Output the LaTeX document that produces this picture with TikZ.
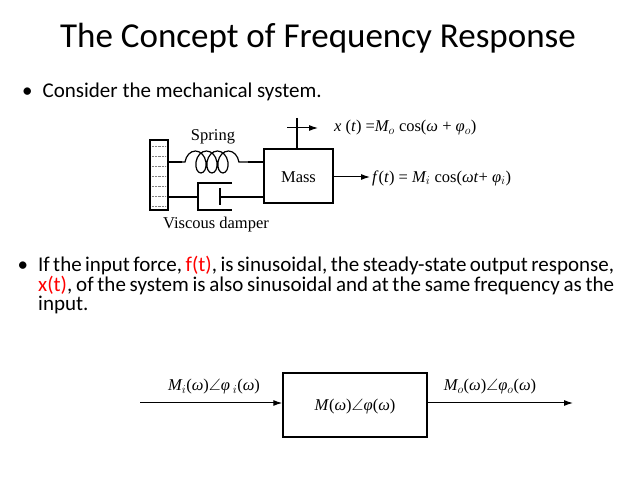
\documentclass[tikz,border=0pt]{standalone}
\usepackage{fontspec}
\usepackage{amssymb}
\setmainfont{Carlito}
\newfontfamily\tms{Liberation Serif}
\usetikzlibrary{arrows.meta,decorations.pathmorphing}
\newcommand{\iv}[1]{\textit{#1}}
\begin{document}
\begin{tikzpicture}[x=1pt,y=-1pt,
          every node/.style={inner sep=0pt},
          fig/.style={font=\tms\fontsize{16.5}{18}\selectfont},
          sys/.style={line width=1.2pt},
          arr/.style={line width=1pt,-{Latex[length=9pt,width=6pt]}},
          >=Latex
        ]
        \useasboundingbox (0,0) rectangle (638,478);

        % title and text
        \node (title) at (318,38) {\fontsize{35}{40}\selectfont The Concept of Frequency Response};
        \node[anchor=west] (b1) at (22,92) {\fontsize{21}{24}\selectfont\textbullet\hspace{10pt}Consider the mechanical system.};
        \node[anchor=north west, text width=576pt, align=justify] (b2) at (38,256)
          {\fontsize{21}{26}\selectfont\llap{\textbullet\hspace{10pt}}If the input force, \textcolor{red}{f(t)}, is sinusoidal, the steady-state output response, \textcolor{red}{x(t)}, of the system is also sinusoidal and at the same frequency as the input.};

        % mechanical system
        \draw[sys, fill=white] (150,140) rectangle (168,210);
        \foreach \y in {146,156,...,206} {
          \draw[densely dotted, gray] (152,\y) -- (166,\y);
        }
        \draw[sys] (264,149) rectangle (333,203);
        \node[fig] (mass) at (298.5,177) {Mass};
        \coordinate (sp1) at (182,162);
        \coordinate (sp2) at (248,162);
        \draw[sys] (168,162) -- (sp1);
        \draw[sys, decorate, decoration={coil, aspect=0.7, segment length=11pt, amplitude=11pt, pre length=3pt, post length=3pt}] (sp1) -- (sp2);
        \draw[sys] (sp2) -- (264,162);
        \node[fig] (spring) at (213,137) {Spring};
        % damper
        \draw[sys] (168,197) -- (198,197);
        \draw[sys] (232,183) -- (198,183) -- (198,210) -- (232,210);
        \draw[sys] (220,188) -- (220,205);
        \draw[sys] (220,197) -- (264,197);
        \node[fig] (damper) at (216,225) {Viscous damper};
        % displacement and force
        \draw[sys] (297,118) -- (297,149);
        \draw[arr] (287,128) -- (318,128);
        \node[fig, anchor=west] (xlab) at (334,128) {\iv{x} (\iv{t}) =\iv{M$_o$} cos(\iv{ω} + \iv{φ$_o$})};
        \draw[arr] (333,177) -- (370,177);
        \node[fig, anchor=west] (flab) at (372,178) {\iv{f}(\iv{t}) = \iv{M$_i$} cos(\iv{ωt}+ \iv{φ$_i$})};

        % block diagram
        \node[draw, line width=1.5pt, minimum width=144pt, minimum height=64pt] (blk) at (355,405) {};
        \node[fig] (blklab) at (355,407) {\iv{M}(\iv{ω})$\angle$\iv{φ}(\iv{ω})};
        \coordinate (in) at (140,403);
        \coordinate (out) at (573,403);
        \draw[arr] (in) -- (blk.west |- in);
        \draw[arr] (blk.east |- out) -- (out);
        \node[fig] (inlab) at (214,387) {\iv{M$_i$}(\iv{ω})$\angle$\iv{φ}\,$_i$(\iv{ω})};
        \node[fig] (outlab) at (490,387) {\iv{M$_o$}(\iv{ω})$\angle$\iv{φ$_o$}(\iv{ω})};
\end{tikzpicture}
\end{document}
